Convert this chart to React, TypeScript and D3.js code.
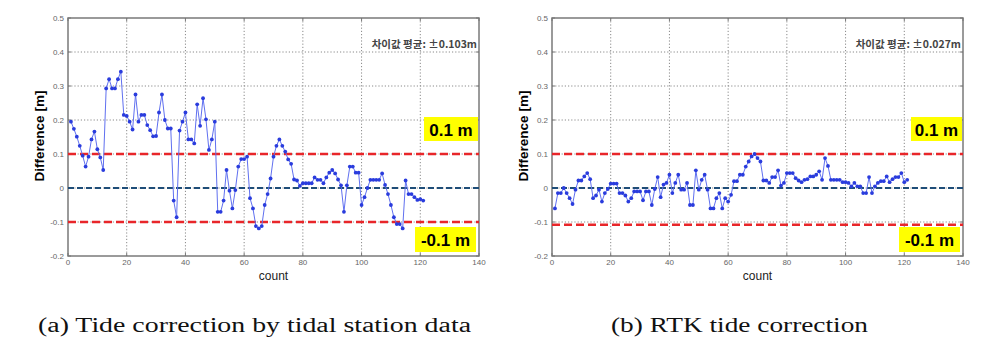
import React from "react";
import * as d3 from "d3";

const xTicks = [0, 20, 40, 60, 80, 100, 120, 140];
const yTicks = [-0.2, -0.1, 0, 0.1, 0.2, 0.3, 0.4, 0.5];
const yTickLabels = ["-0.2", "-0.1", "0", "0.1", "0.2", "0.3", "0.4", "0.5"];

const tidalStation = [
  0.195, 0.174, 0.151, 0.124, 0.095, 0.063, 0.092, 0.143, 0.166, 0.114,
  0.09, 0.053, 0.293, 0.32, 0.293, 0.293, 0.32, 0.342, 0.215, 0.212,
  0.195, 0.172, 0.275, 0.195, 0.215, 0.215, 0.185, 0.17, 0.152, 0.153,
  0.222, 0.275, 0.2, 0.175, 0.175, -0.037, -0.086, 0.169, 0.195, 0.222,
  0.143, 0.143, 0.131, 0.246, 0.183, 0.264, 0.202, 0.112, 0.143, 0.195,
  -0.07, -0.07, -0.037, 0.053, -0.008, -0.06, -0.006, 0.063, 0.085, 0.085,
  0.092, -0.03, -0.06, -0.112, -0.119, -0.112, -0.05, -0.018, 0.028, 0.092,
  0.124, 0.143, 0.124, 0.107, 0.084, 0.071, 0.025, 0.022, 0.006, 0.014,
  0.014, 0.014, 0.014, 0.031, 0.024, 0.024, 0.014, 0.031, 0.045, 0.053,
  0.043, 0.025, 0.008, -0.07, 0.008, 0.063, 0.063, 0.045, 0.045, -0.05,
  -0.027, 0, 0.024, 0.024, 0.024, 0.024, 0.043, 0.009, -0.018, -0.05,
  -0.086, -0.106, -0.106, -0.119, 0.022, -0.018, -0.018, -0.027, -0.035, -0.033,
  -0.037,
];

const rtk = [
  -0.06, -0.015, -0.015, 0, -0.015, -0.03, -0.047, -0.005, 0.022, 0.022,
  0.034, 0.044, 0.026, -0.03, -0.022, -0.005, -0.04, -0.015, -0.003, 0.013,
  0.013, 0.013, -0.015, -0.015, -0.022, -0.04, -0.03, -0.01, -0.01, -0.01,
  -0.036, -0.01, -0.01, -0.05, -0.003, 0.032, -0.027, 0.01, 0.015, 0.039,
  -0.015, 0.015, 0.039, -0.005, -0.005, 0.015, -0.05, -0.05, 0.052, -0.005,
  0.024, 0.039, -0.005, -0.06, -0.06, -0.03, -0.015, -0.06, -0.03, -0.04,
  -0.02, 0.02, 0.02, 0.039, 0.039, 0.063, 0.078, 0.093, 0.1, 0.088,
  0.078, 0.022, 0.022, 0.015, 0.032, 0.032, 0.052, 0.007, 0.015, 0.044,
  0.044, 0.044, 0.029, 0.022, 0.017, 0.024, 0.026, 0.034, 0.034, 0.039,
  0.049, 0.024, 0.088, 0.065, 0.024, 0.024, 0.024, 0.024, 0.017, 0.017,
  0.015, 0.005, 0.015, 0.005, 0.005, -0.015, -0.015, 0.032, -0.015, 0.005,
  0.015, 0.02, 0.02, 0.034, 0.017, 0.026, 0.032, 0.032, 0.044, 0.017,
  0.024,
];

const annotations = ["차이값 평균: ±0.103m", "차이값 평균: ±0.027m"];
const captions = ["(a) Tide correction by tidal station data", "(b) RTK tide correction"];
const upperLimits = [0.1, 0.1];
const lowerLimits = [-0.1, -0.108];
const upperLabel = "0.1 m";
const lowerLabel = "-0.1 m";

type PanelProps = {
  left: number;
  data: number[];
  annotation: string;
  upper: number;
  lower: number;
  caption: string;
  captionLeft: number;
  captionWidth: number;
  box1W: number;
  box2W: number;
};

function Panel({ left, data, annotation, upper, lower, caption, captionLeft, captionWidth, box1W, box2W }: PanelProps) {
  const x = d3.scaleLinear().domain([0, 140]).range([left, left + 411]);
  const y = d3.scaleLinear().domain([-0.2, 0.5]).range([256, 18]);
  const [x0, x1] = x.range();
  const [yb, yt] = y.range();
  const line = d3
    .line<number>()
    .x((_, i) => x(i + 1))
    .y((d) => y(d));
  const gridColor = "#8a8a8a";
  return (
    <g>
      {xTicks.slice(1, -1).map((t) => (
        <line key={"gx" + t} x1={x(t)} x2={x(t)} y1={yt} y2={yb} stroke={gridColor} strokeWidth={1} strokeDasharray="1.2,2" />
      ))}
      {yTicks.slice(1, -1).map((t) => (
        <line key={"gy" + t} x1={x0} x2={x1} y1={y(t)} y2={y(t)} stroke={gridColor} strokeWidth={1} strokeDasharray="1.2,2" />
      ))}
      <rect x={x0} y={yt} width={x1 - x0} height={yb - yt} fill="none" stroke="#7a7a7a" strokeWidth={1.5} />
      {xTicks.map((t) => (
        <g key={"tx" + t}>
          <line x1={x(t)} x2={x(t)} y1={yb} y2={yb - 3} stroke="#777" />
          <line x1={x(t)} x2={x(t)} y1={yt} y2={yt + 3} stroke="#777" />
          <text x={x(t)} y={yb + 9} fontSize={8} fill="#666" textAnchor="middle" fontFamily="Liberation Sans, Arial, sans-serif">
            {t}
          </text>
        </g>
      ))}
      {yTicks.map((t, i) => (
        <g key={"ty" + t}>
          <line x1={x0} x2={x0 + 3} y1={y(t)} y2={y(t)} stroke="#777" />
          <line x1={x1} x2={x1 - 3} y1={y(t)} y2={y(t)} stroke="#777" />
          <text x={x0 - 4} y={y(t) + 3} fontSize={8} fill="#666" textAnchor="end" fontFamily="Liberation Sans, Arial, sans-serif">
            {yTickLabels[i]}
          </text>
        </g>
      ))}
      <line x1={x0} x2={x1} y1={y(upper)} y2={y(upper)} stroke="#e8262a" strokeWidth={2.4} strokeDasharray="8,4" />
      <line x1={x0} x2={x1} y1={y(lower)} y2={y(lower)} stroke="#e8262a" strokeWidth={2.4} strokeDasharray="8,4" />
      <line x1={x0} x2={x1} y1={y(0)} y2={y(0)} stroke="#1e4d78" strokeWidth={2} strokeDasharray="6,3" />
      <path d={line(data) || ""} fill="none" stroke="#6070f0" strokeWidth={1} />
      {data.map((d, i) => (
        <circle key={i} cx={x(i + 1)} cy={y(d)} r={1.9} fill="#2a3cdd" />
      ))}
      <text x={x1 - 2} y={48} fontSize={10.5} textAnchor="end" fill="#444" fontWeight={700} fontFamily="Noto Sans CJK KR, sans-serif">
        {annotation}
      </text>
      <rect x={x1 - 1 - box1W} y={117} width={box1W} height={24} fill="#ffff00" />
      <text x={x1 - 1 - box1W / 2} y={136} fontSize={17} fontWeight="bold" textAnchor="middle" fontFamily="Liberation Sans, Arial, sans-serif">
        {upperLabel}
      </text>
      <rect x={x1 - 3 - box2W} y={227} width={box2W} height={25} fill="#ffff00" />
      <text x={x1 - 3 - box2W / 2} y={246} fontSize={17} fontWeight="bold" textAnchor="middle" fontFamily="Liberation Sans, Arial, sans-serif">
        {lowerLabel}
      </text>
      <text
        transform={`translate(${x0 - 24},${136}) rotate(-90)`}
        fontSize={13.5}
        fontWeight="bold"
        textAnchor="middle"
        fontFamily="Liberation Sans, Arial, sans-serif"
      >
        Difference [m]
      </text>
      <text x={(x0 + x1) / 2} y={280} fontSize={12} textAnchor="middle" fill="#222" fontFamily="Liberation Sans, Arial, sans-serif">
        count
      </text>
      <text
        x={captionLeft}
        y={332}
        fontSize={20}
        textLength={captionWidth}
        lengthAdjust="spacingAndGlyphs"
        fontFamily="Liberation Serif, serif"
        fill="#111"
      >
        {caption}
      </text>
    </g>
  );
}

export default function App() {
  return (
    <svg width={996} height={350} style={{ position: "absolute", left: 0, top: 0, background: "#fff" }}>
      <rect width={996} height={350} fill="#fff" />
      <Panel
        left={68}
        data={tidalStation}
        annotation={annotations[0]}
        upper={upperLimits[0]}
        lower={lowerLimits[0]}
        caption={captions[0]}
        captionLeft={38}
        captionWidth={433}
        box1W={54}
        box2W={61}
      />
      <Panel
        left={552}
        data={rtk}
        annotation={annotations[1]}
        upper={upperLimits[1]}
        lower={lowerLimits[1]}
        caption={captions[1]}
        captionLeft={611}
        captionWidth={257}
        box1W={51}
        box2W={61}
      />
    </svg>
  );
}
